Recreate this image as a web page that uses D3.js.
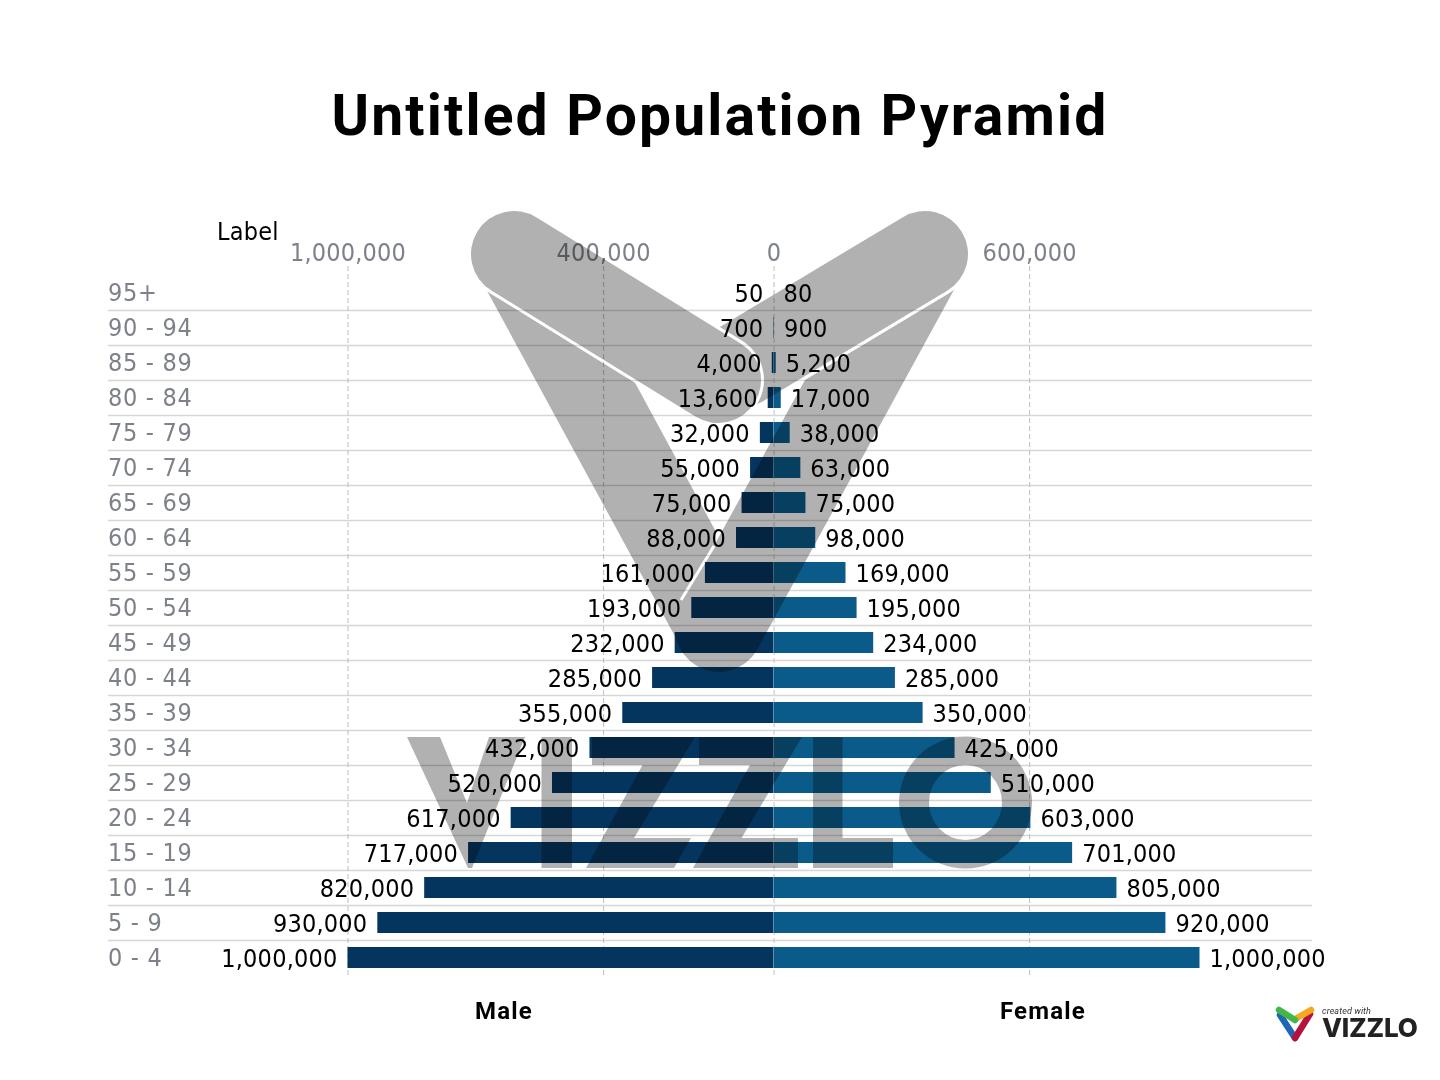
<!DOCTYPE html>
<html><head><meta charset="utf-8">
<script src="https://cdn.jsdelivr.net/npm/d3@7/dist/d3.min.js"></script>
<style>html,body{margin:0;padding:0;background:#fff}svg{display:block}
text{font-family:"DejaVu Sans";font-stretch:condensed;letter-spacing:.2px}</style></head><body>
<script>
const titleText = "Untitled Population Pyramid";
const ages = ["95+","90 - 94","85 - 89","80 - 84","75 - 79","70 - 74","65 - 69","60 - 64","55 - 59","50 - 54","45 - 49","40 - 44","35 - 39","30 - 34","25 - 29","20 - 24","15 - 19","10 - 14","5 - 9","0 - 4"];
const male = [50,700,4000,13600,32000,55000,75000,88000,161000,193000,232000,285000,355000,432000,520000,617000,717000,820000,930000,1000000];
const female = [80,900,5200,17000,38000,63000,75000,98000,169000,195000,234000,285000,350000,425000,510000,603000,701000,805000,920000,1000000];
const maleTicks = [1000000,400000];
const femaleTicks = [0,600000];

const svg = d3.select("body").append("svg").attr("width",1440).attr("height",1080);
const fmt = d3.format(",");
const cx = 773.5;
const xM = d3.scaleLinear().domain([0,1000000]).range([cx,347.5]);
const xF = d3.scaleLinear().domain([0,1000000]).range([cx,1199.5]);
const y = d3.scaleBand().domain(ages).range([275,975]).paddingInner(0.4).paddingOuter(0.2);
const step = y.step();
const rowBottom = a => y(a)+y.bandwidth()/2+step/2;

svg.append("text").attr("x",720).attr("y",135).attr("text-anchor","middle")
  .style("font-family","Roboto").style("font-stretch","normal").style("letter-spacing","2.15px")
  .attr("font-size",57).attr("font-weight",700).attr("fill","#000").text(titleText);

// separators
svg.append("g").selectAll("line").data(ages.slice(0,-1)).join("line")
  .attr("x1",108).attr("x2",1312).attr("y1",a=>Math.round(rowBottom(a))+.5).attr("y2",a=>Math.round(rowBottom(a))+.5)
  .attr("stroke","#d6d6d6").attr("stroke-width",1.3);

// axes with dashed gridlines (under the bars)
function axis(scale,vals){
  const g = svg.append("g").attr("transform","translate(0,262)")
    .call(d3.axisTop(scale).tickValues(vals).tickFormat(fmt).tickSize(0).tickPadding(0));
  g.select(".domain").remove();
  g.selectAll("text").attr("font-size",25).attr("fill","#7d818a").attr("y",-1).attr("font-family","DejaVu Sans");
  g.selectAll(".tick").append("line").attr("y1",4).attr("y2",713).attr("stroke","#bdbdbd").attr("stroke-width",1).attr("stroke-dasharray","5,3");
}
axis(xM,maleTicks); axis(xF,femaleTicks);

// bars
svg.append("g").selectAll("rect").data(male).join("rect")
  .attr("x",d=>xM(d)).attr("width",d=>cx-xM(d)).attr("y",(d,i)=>y(ages[i])).attr("height",y.bandwidth()).attr("fill","#03355e");
svg.append("g").selectAll("rect").data(female).join("rect")
  .attr("x",cx).attr("width",d=>xF(d)-cx).attr("y",(d,i)=>y(ages[i])).attr("height",y.bandwidth()).attr("fill","#0a5a8a");
// faint centre line over the bars
svg.append("line").attr("x1",xM(0)).attr("x2",xM(0)).attr("y1",266).attr("y2",975).attr("stroke","#fff").attr("stroke-opacity",.18);

// value labels
svg.append("g").selectAll("text").data(male).join("text")
  .attr("x",d=>xM(d)-10).attr("y",(d,i)=>y(ages[i])+y.bandwidth()/2+9).attr("text-anchor","end")
  .attr("font-size",25).attr("fill","#000").text(fmt);
svg.append("g").selectAll("text").data(female).join("text")
  .attr("x",d=>xF(d)+10).attr("y",(d,i)=>y(ages[i])+y.bandwidth()/2+9)
  .attr("font-size",25).attr("fill","#000").text(fmt);

// row labels
svg.append("g").selectAll("text").data(ages).join("text")
  .attr("x",108).attr("y",a=>y(a)+y.bandwidth()/2+8).attr("font-size",25).attr("fill","#7d818a").style("letter-spacing",".7px").text(d=>d);

svg.append("text").attr("x",217).attr("y",240).attr("font-size",25).attr("fill","#000").text("Label");
const foot = (x,t)=>svg.append("text").attr("x",x).attr("y",1019).attr("text-anchor","middle").attr("font-size",24).attr("font-weight",700)
  .style("font-family","Roboto").style("font-stretch","normal").style("letter-spacing","1.2px").text(t);
foot(504,"Male"); foot(1043,"Female");

// watermark stamp: a flat graphic laid over the chart
const wm = svg.append("g").style("mix-blend-mode","multiply");
const G = "#b1b1b1";
wm.append("path").attr("fill",G).attr("d","M486,289L633,379L715,530L719,640L677,640Z");
wm.append("path").attr("fill",G).attr("d","M955,288L805,380L681,606A43,43 0 0 0 757,650Z");
wm.append("line").attr("x1",714).attr("y1",546).attr("x2",681).attr("y2",600).attr("stroke","#fff").attr("stroke-width",3);
wm.append("line").attr("x1",925).attr("y1",254).attr("x2",740).attr("y2",365).attr("stroke","#fff").attr("stroke-width",92).attr("stroke-linecap","round");
wm.append("line").attr("x1",925).attr("y1",254).attr("x2",740).attr("y2",365).attr("stroke",G).attr("stroke-width",86).attr("stroke-linecap","round");
wm.append("line").attr("x1",514).attr("y1",254).attr("x2",718).attr("y2",380).attr("stroke","#fff").attr("stroke-width",92).attr("stroke-linecap","round");
wm.append("line").attr("x1",514).attr("y1",254).attr("x2",718).attr("y2",380).attr("stroke",G).attr("stroke-width",86).attr("stroke-linecap","round");
wm.append("path").attr("fill",G).attr("fill-rule","evenodd").attr("d",[
  "M407,737H440L467,803L489,737H525L472,868H468Z",
  "M541.5,737H572V868H541.5Z",
  "M592,737H695L634,838H691L674,868H586L642.5,765H592Z",
  "M699,737H802L741.5,838H798V868H693L750,765H699Z",
  "M813,737H842.5V838H893V868H813Z",
  "M899,802.5A66.5,66 0 1 1 1032,802.5A66.5,66 0 1 1 899,802.5ZM929,802.5A36.5,37.5 0 1 0 1002,802.5A36.5,37.5 0 1 0 929,802.5Z"
].join(""));

// logo
const logo = svg.append("g").attr("stroke-linecap","round").attr("fill","none").attr("stroke-width",6.5);
logo.append("line").attr("x1",1280).attr("y1",1015).attr("x2",1295).attr("y2",1038).attr("stroke","#1f66b5");
logo.append("line").attr("x1",1310).attr("y1",1014).attr("x2",1295).attr("y2",1038).attr("stroke","#b5123f");
logo.append("line").attr("x1",1311).attr("y1",1010).attr("x2",1297).attr("y2",1018).attr("stroke","#f5a91f");
logo.append("line").attr("x1",1279).attr("y1",1010).attr("x2",1295).attr("y2",1020).attr("stroke","#43b649");
svg.append("text").attr("x",1322).attr("y",1013.5).attr("font-size",9).attr("font-style","italic").attr("fill","#333")
  .style("font-family","Roboto").style("font-stretch","normal").style("letter-spacing","0.1px").text("created with");
svg.append("text").attr("x",1322).attr("y",1037).attr("font-size",26).attr("font-weight",800).attr("fill","#222")
  .style("font-family","Inter").style("font-stretch","normal").style("letter-spacing","-.2px").text("VIZZLO");
</script></body></html>
